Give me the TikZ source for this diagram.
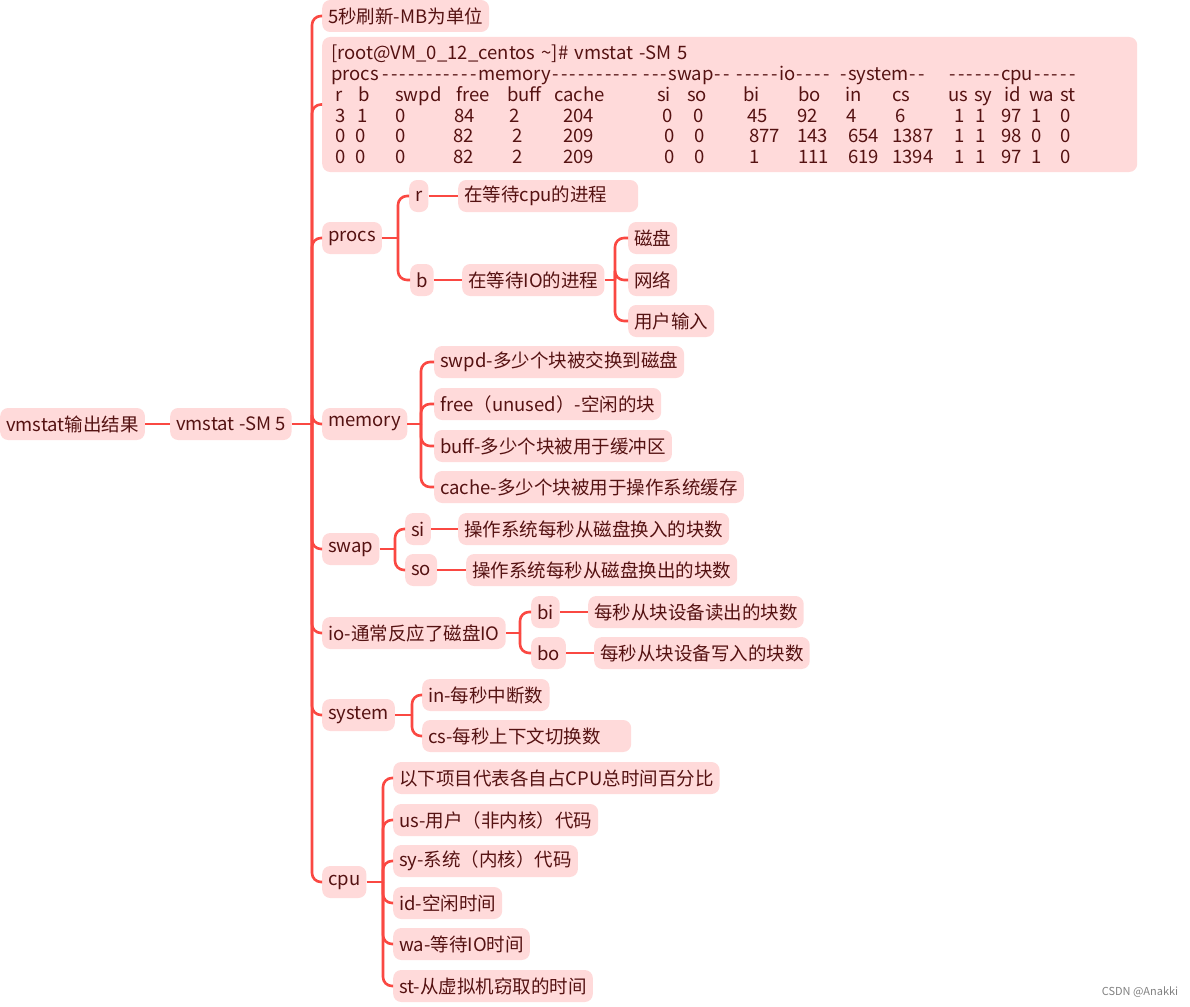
\documentclass[tikz,border=0pt]{standalone}
\usepackage{fontspec}
\setmainfont{Noto Sans CJK SC}
\usetikzlibrary{positioning}

\definecolor{mapfill}{RGB}{255,218,218}
\definecolor{mapline}{RGB}{250,72,66}
\definecolor{maptext}{RGB}{85,18,18}

% column helpers for the vmstat sample block
\newcommand\putat[2]{\makebox[0pt][l]{\hspace*{#1pt}#2}}
\newcommand\dashrun[1]{\foreach \d in {1,...,#1}{\makebox[8.8pt]{-}}}

\begin{document}
\begin{tikzpicture}[x=1pt,y=-1pt,
	box/.style={fill=mapfill, rounded corners=8pt, text=maptext, anchor=west,
		minimum height=32pt, inner xsep=6pt, inner ysep=2pt,
		font=\fontsize{18.5}{21}\selectfont},
	link/.style={draw=mapline, line width=2.6pt},
	fork/.style={link, rounded corners=9pt}]

\useasboundingbox (0,0) rectangle (1190,1006);

% Root and command
	\node (root)	[box]	at (0,424)		{vmstat输出结果};
	\node (cmd)		[box]	at (170,424)	{vmstat -SM 5};

% First level
	\node (refresh)	[box]	at (322,16)		{5秒刷新-MB为单位};
	\node (sample)	[box, text width=797pt, align=left, inner xsep=9pt,
		minimum height=135pt, font=\fontsize{18.5}{20.8}\selectfont]
		at (322,104.5) {%
		[root@VM\_0\_12\_centos \textasciitilde]\# vmstat -SM 5\\
		\putat{0}{procs}\putat{50}{\dashrun{11}memory\dashrun{10}}\putat{311}{\dashrun{3}swap\dashrun{2}}\putat{404}{\dashrun{5}io\dashrun{4}}\putat{508}{\dashrun{1}system\dashrun{2}}\putat{617}{\dashrun{6}cpu\dashrun{5}}\\
		\putat{4.5}{r}\putat{27}{b}\putat{64}{swpd}\putat{125}{free}\putat{176}{buff}\putat{223}{cache}\putat{326}{si}\putat{356}{so}\putat{412}{bi}\putat{467}{bo}\putat{514}{in}\putat{561}{cs}\putat{617}{us}\putat{643}{sy}\putat{673}{id}\putat{698}{wa}\putat{729}{st}\\
		\putat{4.5}{3}\putat{26}{1}\putat{64}{0}\putat{123}{84}\putat{178}{2}\putat{232}{204}\putat{331}{0}\putat{362}{0}\putat{416}{45}\putat{466}{92}\putat{515}{4}\putat{564}{6}\putat{623}{1}\putat{644}{1}\putat{670}{97}\putat{700}{1}\putat{729}{0}\\
		\putat{4}{0}\putat{24}{0}\putat{64}{0}\putat{122}{82}\putat{181}{2}\putat{232}{209}\putat{333}{0}\putat{363}{0}\putat{418}{877}\putat{466}{143}\putat{517}{654}\putat{561}{1387}\putat{623}{1}\putat{644}{1}\putat{670}{98}\putat{700}{0}\putat{729}{0}\\
		\putat{4}{0}\putat{24}{0}\putat{64}{0}\putat{122}{82}\putat{181}{2}\putat{232}{209}\putat{333}{0}\putat{363}{0}\putat{418}{1}\putat{467}{111}\putat{517}{619}\putat{561}{1394}\putat{623}{1}\putat{644}{1}\putat{670}{97}\putat{700}{1}\putat{729}{0}};
	\node (procs)	[box]	at (322,238)	{procs};
	\node (memory)	[box]	at (322,424)	{memory};
	\node (swap)	[box]	at (322,549)	{swap};
	\node (io)		[box]	at (322,633)	{io-通常反应了磁盘IO};
	\node (system)	[box]	at (322,715)	{system};
	\node (cpu)		[box]	at (322,882)	{cpu};

% procs
	\node (r)		[box]	at (409,196)	{r};
	\node (b)		[box]	at (410,280)	{b};
	\node (rwait)	[box, text width=168pt, align=left]	at (458,196)	{在等待cpu的进程};
	\node (bwait)	[box]	at (462,280)	{在等待IO的进程};
	\node (disk)	[box]	at (628,238)	{磁盘};
	\node (net)		[box]	at (628,280)	{网络};
	\node (input)	[box]	at (628,321)	{用户输入};

% memory
	\node (swpd)	[box]	at (434,362)	{swpd-多少个块被交换到磁盘};
	\node (free)	[box]	at (434,404)	{free（unused）-空闲的块};
	\node (buff)	[box]	at (434,446)	{buff-多少个块被用于缓冲区};
	\node (cache)	[box]	at (434,487)	{cache-多少个块被用于操作系统缓存};

% swap
	\node (si)		[box]	at (405,529)	{si};
	\node (so)		[box]	at (405,570)	{so};
	\node (sidesc)	[box]	at (458,529)	{操作系统每秒从磁盘换入的块数};
	\node (sodesc)	[box]	at (466,570)	{操作系统每秒从磁盘换出的块数};

% io
	\node (bi)		[box]	at (531,612)	{bi};
	\node (bo)		[box]	at (531,653)	{bo};
	\node (bidesc)	[box]	at (588,612)	{每秒从块设备读出的块数};
	\node (bodesc)	[box]	at (594,653)	{每秒从块设备写入的块数};

% system
	\node (sysin)	[box]	at (422,695)	{in-每秒中断数};
	\node (syscs)	[box, text width=197pt, align=left]	at (422,736)	{cs-每秒上下文切换数};

% cpu
	\node (cpunote)	[box]	at (393,778)	{以下项目代表各自占CPU总时间百分比};
	\node (us)		[box]	at (393,820)	{us-用户（非内核）代码};
	\node (sy)		[box]	at (393,861)	{sy-系统（内核）代码};
	\node (id)		[box]	at (393,903)	{id-空闲时间};
	\node (wa)		[box]	at (393,944)	{wa-等待IO时间};
	\node (st)		[box]	at (393,986)	{st-从虚拟机窃取的时间};

	\node (mark) [text=gray, font=\fontsize{11}{13}\selectfont] at (1140,992) {CSDN @Anakki};

% Fork points
	\coordinate (cmdfork)		at (312,424);
	\coordinate (procsfork)		at (398,238);
	\coordinate (bwaitfork)		at (615,280);
	\coordinate (memoryfork)	at (421,424);
	\coordinate (swapfork)		at (395,549);
	\coordinate (iofork)		at (520,633);
	\coordinate (systemfork)	at (412,715);
	\coordinate (cpufork)		at (383,882);

% Connectors
	\draw[link] (root) -- (cmd);
	\draw[link] (cmd) -- (cmdfork);
	\foreach \c in {refresh,sample,procs,memory,swap,io,system,cpu}
		\draw[fork] (cmdfork) |- (\c.west);

	\draw[link] (procs) -- (procsfork);
	\foreach \c in {r,b}
		\draw[fork] (procsfork) |- (\c.west);
	\draw[link] (r) -- (rwait);
	\draw[link] (b) -- (bwait);
	\draw[link] (bwait) -- (bwaitfork);
	\foreach \c in {disk,net,input}
		\draw[fork] (bwaitfork) |- (\c.west);

	\draw[link] (memory) -- (memoryfork);
	\foreach \c in {swpd,free,buff,cache}
		\draw[fork] (memoryfork) |- (\c.west);

	\draw[link] (swap) -- (swapfork);
	\foreach \c in {si,so}
		\draw[fork] (swapfork) |- (\c.west);
	\draw[link] (si) -- (sidesc);
	\draw[link] (so) -- (sodesc);

	\draw[link] (io) -- (iofork);
	\foreach \c in {bi,bo}
		\draw[fork] (iofork) |- (\c.west);
	\draw[link] (bi) -- (bidesc);
	\draw[link] (bo) -- (bodesc);

	\draw[link] (system) -- (systemfork);
	\foreach \c in {sysin,syscs}
		\draw[fork] (systemfork) |- (\c.west);

	\draw[link] (cpu) -- (cpufork);
	\foreach \c in {cpunote,us,sy,id,wa,st}
		\draw[fork] (cpufork) |- (\c.west);

\end{tikzpicture}
\end{document}
